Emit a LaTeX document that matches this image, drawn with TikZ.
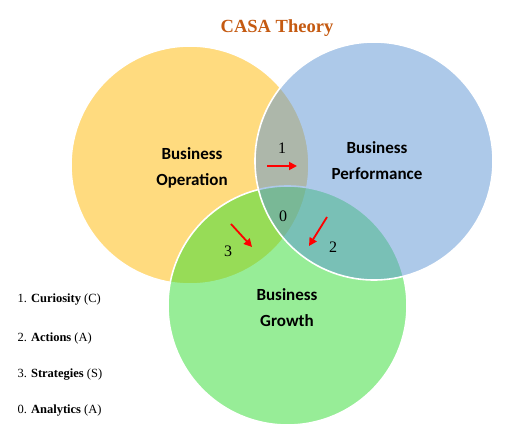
\documentclass[tikz,border=0pt]{standalone}
\usepackage{fontspec}
\setmainfont{Liberation Serif}
\setsansfont{Carlito}
\usetikzlibrary{arrows.meta}
\definecolor{cyel}{RGB}{255,185,0}
\definecolor{cblu}{RGB}{93,149,213}
\definecolor{cgrn}{RGB}{49,221,49}
\definecolor{ctitle}{RGB}{197,90,17}
\tikzset{
  venn/.style={draw=white, line width=1.6pt, fill opacity=0.5},
  lbl/.style={font=\sffamily\bfseries\fontsize{17}{26}\selectfont, align=center},
  num/.style={font=\fontsize{16}{18}\selectfont},
  legend/.style={font=\fontsize{12.5}{14}\selectfont, anchor=west},
  redarrow/.style={draw=red, line width=1.8pt, -{Triangle[length=8pt,width=8pt]}}
}
\begin{document}
\begin{tikzpicture}[x=1pt,y=-1pt]
\useasboundingbox (0,0) rectangle (515,443);
\fill[white] (0,0) rectangle (515,443);
\node[font=\bfseries\fontsize{18.5}{20}\selectfont, text=ctitle] (title) at (277,28) {CASA Theory};
\path[venn, fill=cyel] (190,165) circle (119pt);
\path[venn, fill=cgrn] (287.5,305.5) circle (119.5pt);
\path[venn, fill=cblu] (374,161) circle (119pt);
\node[lbl] (op) at (192,168) {Business\\Operation};
\node[lbl] (perf) at (377,161) {Business\\Performance};
\node[lbl] (gr) at (287,308) {Business\\Growth};
\node[num] (n1) at (282,148) {1};
\node[num] (n0) at (283,216) {0};
\node[num] (n3) at (228,251) {3};
\node[num] (n2) at (333,247) {2};
\coordinate (a1s) at (267,166); \coordinate (a1e) at (297,166);
\coordinate (a3s) at (231,224); \coordinate (a3e) at (252,247);
\coordinate (a2s) at (327,217); \coordinate (a2e) at (309,246);
\draw[redarrow] (a1s) -- (a1e);
\draw[redarrow] (a3s) -- (a3e);
\draw[redarrow] (a2s) -- (a2e);
\node[legend] (l1) at (14,300) {1. \textbf{Curiosity} (C)};
\node[legend] (l2) at (14,338) {2. \textbf{Actions} (A)};
\node[legend] (l3) at (14,375) {3. \textbf{Strategies} (S)};
\node[legend] (l0) at (14,411) {0. \textbf{Analytics} (A)};
\end{tikzpicture}
\end{document}
